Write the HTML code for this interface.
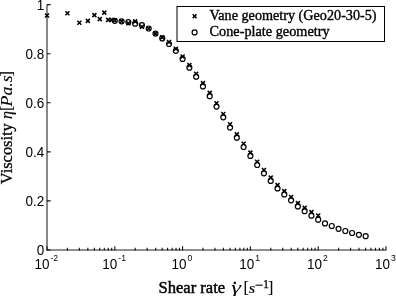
<!DOCTYPE html>
<html><head><meta charset="utf-8"><style>
html,body{margin:0;padding:0;background:#fff;}
svg{display:block;}
.tk{font-family:"Liberation Sans",Arial,sans-serif;font-size:13.5px;fill:#000;}
.sup{font-size:8.6px;}
.lg{font-family:"Liberation Serif","Times New Roman",serif;font-size:13.6px;fill:#000;stroke:#000;stroke-width:0.35px;}
.al{font-family:"Liberation Serif","Times New Roman",serif;font-size:16px;fill:#000;stroke:#000;stroke-width:0.45px;}
</style></head><body>
<svg width="396" height="296" viewBox="0 0 396 296">
<rect width="396" height="296" fill="#fff"/>
<path d="M47.0 4.6V250.0H386.00" fill="none" stroke="#6b6b6b" stroke-width="1.6"/>
<path d="M47.0 250.00h3.6M47.0 200.92h3.6M47.0 151.84h3.6M47.0 102.76h3.6M47.0 53.68h3.6M47.0 4.60h3.6M47.00 250.6v-4.4M67.41 250.6v-2.8M79.35 250.6v-2.8M87.82 250.6v-2.8M94.39 250.6v-2.8M99.76 250.6v-2.8M104.30 250.6v-2.8M108.23 250.6v-2.8M111.70 250.6v-2.8M114.80 250.6v-4.4M135.21 250.6v-2.8M147.15 250.6v-2.8M155.62 250.6v-2.8M162.19 250.6v-2.8M167.56 250.6v-2.8M172.10 250.6v-2.8M176.03 250.6v-2.8M179.50 250.6v-2.8M182.60 250.6v-4.4M203.01 250.6v-2.8M214.95 250.6v-2.8M223.42 250.6v-2.8M229.99 250.6v-2.8M235.36 250.6v-2.8M239.90 250.6v-2.8M243.83 250.6v-2.8M247.30 250.6v-2.8M250.40 250.6v-4.4M270.81 250.6v-2.8M282.75 250.6v-2.8M291.22 250.6v-2.8M297.79 250.6v-2.8M303.16 250.6v-2.8M307.70 250.6v-2.8M311.63 250.6v-2.8M315.10 250.6v-2.8M318.20 250.6v-4.4M338.61 250.6v-2.8M350.55 250.6v-2.8M359.02 250.6v-2.8M365.59 250.6v-2.8M370.96 250.6v-2.8M375.50 250.6v-2.8M379.43 250.6v-2.8M382.90 250.6v-2.8M386.00 250.6v-4.4" fill="none" stroke="#111" stroke-width="1.1"/>
<text transform="translate(44.3,254.90) scale(1,1.07)" class="tk" text-anchor="end">0</text>
<text transform="translate(44.3,205.82) scale(1,1.07)" class="tk" text-anchor="end">0.2</text>
<text transform="translate(44.3,156.74) scale(1,1.07)" class="tk" text-anchor="end">0.4</text>
<text transform="translate(44.3,107.66) scale(1,1.07)" class="tk" text-anchor="end">0.6</text>
<text transform="translate(44.3,58.58) scale(1,1.07)" class="tk" text-anchor="end">0.8</text>
<text transform="translate(44.3,9.50) scale(1,1.07)" class="tk" text-anchor="end">1</text>
<text transform="translate(46.30,268.8) scale(1,1.06)" class="tk" text-anchor="middle">10<tspan class="sup" dx="1" dy="-7.4">-2</tspan></text>
<text transform="translate(114.10,268.8) scale(1,1.06)" class="tk" text-anchor="middle">10<tspan class="sup" dx="1" dy="-7.4">-1</tspan></text>
<text transform="translate(181.90,268.8) scale(1,1.06)" class="tk" text-anchor="middle">10<tspan class="sup" dx="1" dy="-7.4">0</tspan></text>
<text transform="translate(249.70,268.8) scale(1,1.06)" class="tk" text-anchor="middle">10<tspan class="sup" dx="1" dy="-7.4">1</tspan></text>
<text transform="translate(317.50,268.8) scale(1,1.06)" class="tk" text-anchor="middle">10<tspan class="sup" dx="1" dy="-7.4">2</tspan></text>
<text transform="translate(385.30,268.8) scale(1,1.06)" class="tk" text-anchor="middle">10<tspan class="sup" dx="1" dy="-7.4">3</tspan></text>
<path d="M45.00 13.50L49.00 17.50M45.00 17.50L49.00 13.50M65.41 11.30L69.41 15.30M65.41 15.30L69.41 11.30M77.35 20.70L81.35 24.70M77.35 24.70L81.35 20.70M85.82 18.90L89.82 22.90M85.82 22.90L89.82 18.90M92.39 13.10L96.39 17.10M92.39 17.10L96.39 13.10M97.76 17.10L101.76 21.10M97.76 21.10L101.76 17.10M102.30 10.60L106.30 14.60M102.30 14.60L106.30 10.60M106.23 17.90L110.23 21.90M106.23 21.90L110.23 17.90M109.70 17.90L113.70 21.90M109.70 21.90L113.70 17.90M112.80 18.50L116.80 22.50M112.80 22.50L116.80 18.50M119.58 19.30L123.58 23.30M119.58 23.30L123.58 19.30M126.36 21.30L130.36 25.30M126.36 25.30L130.36 21.30M133.14 19.40L137.14 23.40M133.14 23.40L137.14 19.40M139.92 24.80L143.92 28.80M139.92 28.80L143.92 24.80M146.70 26.50L150.70 30.50M146.70 30.50L150.70 26.50M153.48 31.60L157.48 35.60M153.48 35.60L157.48 31.60M160.26 35.40L164.26 39.40M160.26 39.40L164.26 35.40M167.04 40.00L171.04 44.00M167.04 44.00L171.04 40.00M173.82 46.80L177.82 50.80M173.82 50.80L177.82 46.80M180.60 54.50L184.60 58.50M180.60 58.50L184.60 54.50M187.38 63.10L191.38 67.10M187.38 67.10L191.38 63.10M194.16 71.70L198.16 75.70M194.16 75.70L198.16 71.70M200.94 81.10L204.94 85.10M200.94 85.10L204.94 81.10M207.72 90.90L211.72 94.90M207.72 94.90L211.72 90.90M214.50 101.30L218.50 105.30M214.50 105.30L218.50 101.30M221.28 112.00L225.28 116.00M221.28 116.00L225.28 112.00M228.06 122.30L232.06 126.30M228.06 126.30L232.06 122.30M234.84 132.40L238.84 136.40M234.84 136.40L238.84 132.40M241.62 141.70L245.62 145.70M241.62 145.70L245.62 141.70M248.40 150.60L252.40 154.60M248.40 154.60L252.40 150.60M255.18 159.70L259.18 163.70M255.18 163.70L259.18 159.70M261.96 168.00L265.96 172.00M261.96 172.00L265.96 168.00M268.74 175.60L272.74 179.60M268.74 179.60L272.74 175.60M275.52 183.10L279.52 187.10M275.52 187.10L279.52 183.10M282.30 189.10L286.30 193.10M282.30 193.10L286.30 189.10M289.08 195.00L293.08 199.00M289.08 199.00L293.08 195.00M295.86 201.10L299.86 205.10M295.86 205.10L299.86 201.10M302.64 205.90L306.64 209.90M302.64 209.90L306.64 205.90M309.42 210.10L313.42 214.10M309.42 214.10L313.42 210.10M316.20 213.50L320.20 217.50M316.20 217.50L320.20 213.50" fill="none" stroke="#000" stroke-width="1.5"/>
<g fill="none" stroke="#000" stroke-width="1.2"><circle cx="114.80" cy="20.80" r="2.5"/><circle cx="121.58" cy="21.30" r="2.5"/><circle cx="128.36" cy="22.10" r="2.5"/><circle cx="135.14" cy="23.70" r="2.5"/><circle cx="141.92" cy="25.20" r="2.5"/><circle cx="148.70" cy="28.50" r="2.5"/><circle cx="155.48" cy="33.60" r="2.5"/><circle cx="162.26" cy="38.40" r="2.5"/><circle cx="169.04" cy="44.00" r="2.5"/><circle cx="175.82" cy="50.80" r="2.5"/><circle cx="182.60" cy="58.90" r="2.5"/><circle cx="189.38" cy="67.70" r="2.5"/><circle cx="196.16" cy="76.70" r="2.5"/><circle cx="202.94" cy="86.40" r="2.5"/><circle cx="209.72" cy="96.20" r="2.5"/><circle cx="216.50" cy="106.60" r="2.5"/><circle cx="223.28" cy="117.30" r="2.5"/><circle cx="230.06" cy="127.60" r="2.5"/><circle cx="236.84" cy="137.70" r="2.5"/><circle cx="243.62" cy="147.00" r="2.5"/><circle cx="250.40" cy="155.90" r="2.5"/><circle cx="257.18" cy="165.00" r="2.5"/><circle cx="263.96" cy="173.30" r="2.5"/><circle cx="270.74" cy="180.90" r="2.5"/><circle cx="277.52" cy="188.40" r="2.5"/><circle cx="284.30" cy="194.40" r="2.5"/><circle cx="291.08" cy="200.30" r="2.5"/><circle cx="297.86" cy="206.40" r="2.5"/><circle cx="304.64" cy="211.20" r="2.5"/><circle cx="311.42" cy="215.70" r="2.5"/><circle cx="318.20" cy="219.70" r="2.5"/><circle cx="324.98" cy="223.40" r="2.5"/><circle cx="331.76" cy="226.00" r="2.5"/><circle cx="338.54" cy="228.80" r="2.5"/><circle cx="345.32" cy="231.00" r="2.5"/><circle cx="352.10" cy="233.00" r="2.5"/><circle cx="358.88" cy="234.80" r="2.5"/><circle cx="365.66" cy="236.20" r="2.5"/></g>
<rect x="177" y="6.5" width="207.5" height="35" fill="#fff" stroke="#000" stroke-width="1"/>
<path d="M192.70 14.30L196.50 18.10M192.70 18.10L196.50 14.30" fill="none" stroke="#000" stroke-width="1.5"/>
<circle cx="194.6" cy="32.4" r="2.5" fill="none" stroke="#000" stroke-width="1.2"/>
<text x="209.6" y="19.8" class="lg" textLength="167" lengthAdjust="spacingAndGlyphs">Vane geometry (Geo20-30-5)</text>
<text x="209.6" y="35.9" class="lg" textLength="120" lengthAdjust="spacingAndGlyphs">Cone-plate geometry</text>
<text x="158.5" y="293.0" class="al" textLength="66.6" lengthAdjust="spacingAndGlyphs">Shear rate</text>
<text class="al" font-style="italic" style="stroke-width:0" transform="translate(231.3,293.0) scale(1.55,1)">γ</text>
<text x="231.6" y="296.0" class="al" style="font-size:20px">˙</text>
<text x="243.5" y="293.0" class="al" style="stroke-width:0.1px">[</text>
<text class="al" font-style="italic" style="font-size:15px;stroke-width:0.15px" transform="translate(248.8,293.0) scale(1.1,1)">s</text>
<text class="al" style="font-size:15px;stroke-width:0.2px" transform="translate(254.7,289.6)">−</text>
<text x="262.9" y="288.0" class="al" style="font-size:12px;stroke-width:0.25px">1</text>
<text x="268.0" y="293.0" class="al" style="stroke-width:0.1px">]</text>
<text class="al" transform="translate(12.3,184.2) rotate(-90)" style="stroke-width:0.3px" textLength="61" lengthAdjust="spacingAndGlyphs">Viscosity</text>
<text class="al" transform="translate(12.3,119.0) rotate(-90)" font-style="italic" style="stroke-width:0.1px">η</text>
<text class="al" transform="translate(12.3,110.9) rotate(-90)" style="stroke-width:0.1px">[</text>
<text class="al" transform="translate(12.3,106.4) rotate(-90)" font-style="italic" style="stroke-width:0.1px" textLength="31" lengthAdjust="spacingAndGlyphs">Pa.s</text>
<text class="al" transform="translate(12.3,76.6) rotate(-90)" style="stroke-width:0.1px">]</text>
</svg>
</body></html>
